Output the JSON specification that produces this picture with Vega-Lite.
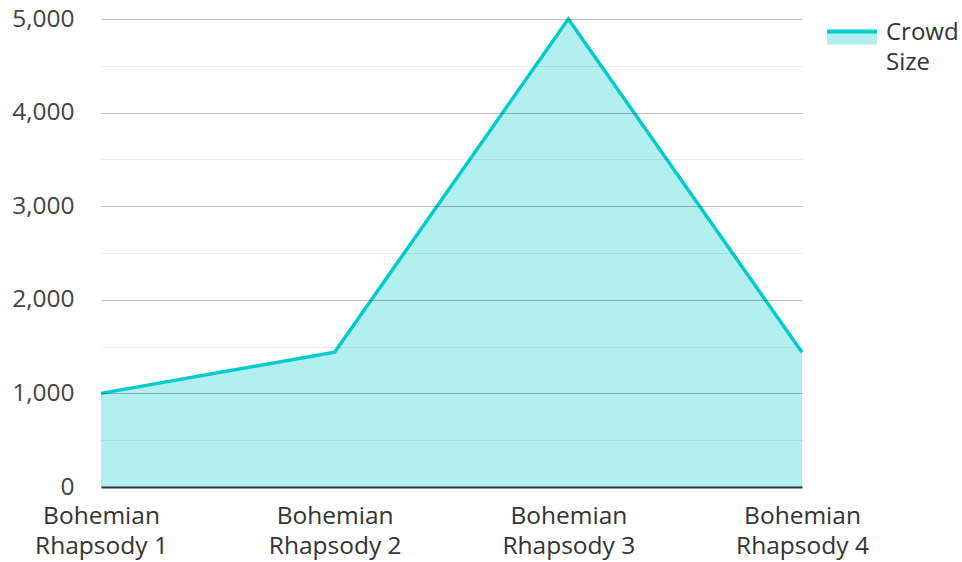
{
  "$schema": "https://vega.github.io/schema/vega-lite/v6.json",
  "width": 701,
  "height": 468,
  "autosize": "none",
  "padding": {"left": 101, "top": 19, "right": 160, "bottom": 75},
  "config": {"font": "Open Sans", "view": {"stroke": null}},
  "data": {"values": [
    {"song": "Bohemian Rhapsody 1", "crowd": 1000},
    {"song": "Bohemian Rhapsody 2", "crowd": 1440},
    {"song": "Bohemian Rhapsody 3", "crowd": 5000},
    {"song": "Bohemian Rhapsody 4", "crowd": 1440}
  ]},
  "encoding": {
    "x": {"field": "song", "type": "ordinal", "sort": null,
      "scale": {"type": "point", "padding": 0},
      "axis": {"title": null, "labelAngle": 0, "labelExpr": "[slice(datum.label, 0, 8), slice(datum.label, 9)]",
        "labelFontSize": 24.5, "labelColor": "#333", "labelLineHeight": 30, "labelBaseline": "top", "labelPadding": 17,
        "ticks": false, "domainColor": "#333", "domainWidth": 2, "grid": false, "zindex": 1, "labelLimit": 300}},
    "y": {"field": "crowd", "type": "quantitative",
      "scale": {"domain": [0, 5000], "nice": false},
      "axis": {"title": null, "values": [0, 500, 1000, 1500, 2000, 2500, 3000, 3500, 4000, 4500, 5000],
        "labelExpr": "datum.value % 1000 == 0 ? format(datum.value, ',') : ''",
        "labelFontSize": 24.5, "labelColor": "#444", "labelPadding": 27, "ticks": false, "domain": false,
        "gridColor": "#000",
        "gridOpacity": {"condition": {"test": "datum.value % 1000 == 0", "value": 0.25}, "value": 0.07},
        "zindex": 1}}
  },
  "layer": [
    {"mark": {"type": "area"},
     "encoding": {"fill": {"datum": "Crowd Size", "scale": {"range": ["#b2efee"]},
       "legend": {"orient": "none", "legendX": 724, "legendY": -13, "title": null,
         "symbolType": "M-1,-0.06H1V0.46H-1Z", "symbolSize": 2500,
         "symbolStrokeColor": "#00cccc", "symbolStrokeWidth": 4, "symbolDash": [50, 76],
         "labelExpr": "['Crowd', 'Size']", "labelFontSize": 24, "labelColor": "#333", "labelOffset": 7, "labelLimit": 0, "padding": 0,
         "encoding": {
           "symbols": {"stroke": {"value": "#00cccc"}, "strokeWidth": {"value": 4}, "strokeDash": {"value": [50, 76]}, "fill": {"value": "#b2efee"}},
           "labels": {"lineHeight": {"value": 30}}
         }}}}},
    {"mark": {"type": "line", "strokeWidth": 3.5, "color": "#00cccc"}}
  ]
}
